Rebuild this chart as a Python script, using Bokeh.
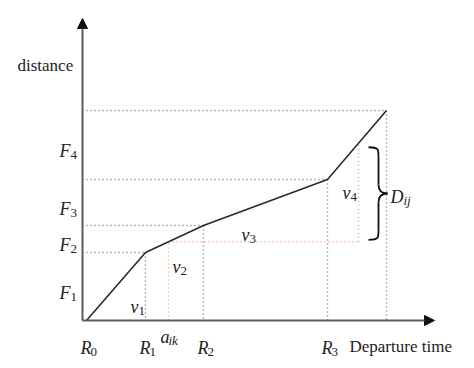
import numpy as np
from bokeh.plotting import figure
from bokeh.models import Range1d, Arrow, NormalHead
from bokeh.core.properties import value
from bokeh.embed import file_html
from bokeh.resources import INLINE

# Break points of the piecewise-linear distance/time curve
break_labels = ["R0", "R1", "R2", "R3"]
break_times = [0, 59, 117, 241, 300]        # R0, R1, R2, R3, end of run
break_dists = [0, 68, 95, 141, 210]         # distance reached at each break point
speed_labels = ["1", "2", "3", "4"]
level_labels = ["1", "2", "3", "4"]

# Arrival of vehicle k and the departure it has to wait for
arrival_time = 82
exit_time = 272

FONT = value("Liberation Serif")
INK = "#222222"
AXIS = "#5c5c5c"
GUIDE = "#6f6f6f"
ORANGE = "#eea06a"

p = figure(width=474, height=368, x_range=Range1d(-86, 388), y_range=Range1d(-48, 320),
           x_axis_type=None, y_axis_type=None, toolbar_location=None,
           output_backend="svg", min_border=0)
p.grid.visible = False
p.outline_line_color = None
p.background_fill_color = "white"

axis_x = -4

# Axes with arrow heads
p.add_layout(Arrow(end=NormalHead(size=10, fill_color="#111111", line_color="#111111"),
                   x_start=axis_x, y_start=0, x_end=348, y_end=0,
                   line_color=AXIS, line_width=2))
p.add_layout(Arrow(end=NormalHead(size=10, fill_color="#111111", line_color="#111111"),
                   x_start=axis_x, y_start=0, x_end=axis_x, y_end=302,
                   line_color=AXIS, line_width=2))

# Gray dotted guides from each break point to both axes
bt = break_times[1:]
bd = break_dists[1:]
p.segment(x0=[axis_x] * len(bt), y0=bd, x1=bt, y1=bd,
          line_color=GUIDE, line_dash="1 3", line_width=1.4)
p.segment(x0=bt, y0=bd, x1=bt, y1=[0] * len(bt),
          line_color=GUIDE, line_dash="1 3", line_width=1.4)

# Distance at arrival and at departure
arrival_dist = float(np.interp(arrival_time, break_times, break_dists))
exit_dist = float(np.interp(exit_time, break_times, break_dists))

# Orange dotted waiting path
p.segment(x0=[arrival_time, arrival_time, exit_time],
          y0=[0, arrival_dist, arrival_dist],
          x1=[arrival_time, exit_time, exit_time],
          y1=[arrival_dist, arrival_dist, exit_dist],
          line_color=ORANGE, line_dash="1 3", line_width=1.4)

# The distance/time curve
p.line(break_times, break_dists, line_color="#2a2a2a", line_width=1.6)

# Curly brace marking D_ij
y_top = exit_dist - 4
y_bot = arrival_dist + 2
y_mid = (y_top + y_bot) / 2
x0, xm, xt = exit_time + 10, exit_time + 20, exit_time + 29
r = 9
p.bezier(x0=[x0, xm, x0, xm],
         y0=[y_top, y_mid + r, y_bot, y_mid - r],
         x1=[xm, xt, xm, xt],
         y1=[y_top - r, y_mid, y_bot + r, y_mid],
         cx0=[xm, xm, xm, xm],
         cy0=[y_top, y_mid + 2, y_bot, y_mid - 2],
         cx1=[xm, xm + 4, xm, xm + 4],
         cy1=[y_top - 2, y_mid, y_bot + 2, y_mid],
         line_color="#111111", line_width=1.8)
p.segment(x0=[xm, xm], y0=[y_top - r, y_mid - r], x1=[xm, xm], y1=[y_mid + r, y_bot + r],
          line_color="#111111", line_width=1.8)


def math_label(x, y, base, sub, base_w, sub_dy=4):
    p.text(x=[x], y=[y], text=[base], text_font=FONT, text_font_style="italic",
           text_font_size="18px", text_color=INK, text_align="left",
           text_baseline="alphabetic")
    p.text(x=[x + base_w], y=[y - sub_dy], text=[sub], text_font=FONT,
           text_font_style="normal" if sub.isdigit() else "italic",
           text_font_size="13px", text_color=INK, text_align="left",
           text_baseline="alphabetic")


# Level labels F1..F4 centred between guide lines
levels = [0] + break_dists[1:]
for i, lab in enumerate(level_labels):
    mid = (levels[i] + levels[i + 1]) / 2
    math_label(axis_x - 23, mid - 6, "F", lab, 11)

# Break point labels R0..R3 under the time axis
for t, lab in zip(break_times[:4], break_labels):
    math_label(t - 6, -27, "R", lab[1:], 10)

# Arrival time a_ik
math_label(arrival_time - 8, -16, "a", "ik", 8)

# Speeds on each segment
speed_pos = [(break_times[1] - 15, 14), (arrival_time + 4, 54),
             (155, 86), (exit_time - 16, 128)]
for (sx, sy), lab in zip(speed_pos, speed_labels):
    math_label(sx, sy, "v", lab, 8)

# Waiting distance label
math_label(xt + 3, y_mid - 3, "D", "ij", 13)

# Plain axis titles
p.text(x=[-69], y=[255], text=["distance"], text_font=FONT, text_font_size="17px",
       text_color=INK, text_align="left", text_baseline="alphabetic")
p.text(x=[263], y=[-26], text=["Departure time"], text_font=FONT, text_font_size="17px",
       text_color=INK, text_align="left", text_baseline="alphabetic")

open("out.html", "w").write(file_html(p, INLINE))
